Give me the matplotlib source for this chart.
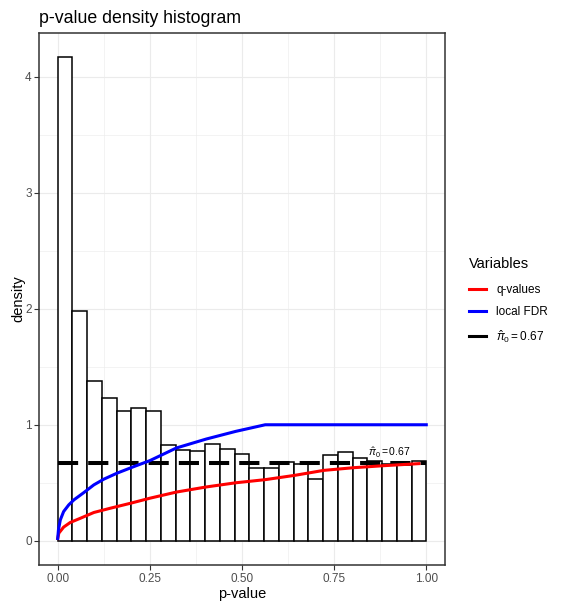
import numpy as np
import matplotlib
matplotlib.use('Agg')
import matplotlib.pyplot as plt
from matplotlib.lines import Line2D

plt.rcParams['font.family'] = ['Liberation Sans', 'DejaVu Sans']
plt.rcParams['mathtext.fontset'] = 'custom'
plt.rcParams['mathtext.rm'] = 'Liberation Sans'
plt.rcParams['mathtext.it'] = 'Liberation Sans:italic'

# histogram densities, 25 bins of width 0.04 on [0, 1]
bin_width = 0.04
density = [4.17, 1.977, 1.377, 1.228, 1.117, 1.142, 1.117, 0.826, 0.783, 0.775,
           0.835, 0.792, 0.749, 0.630, 0.630, 0.683, 0.665, 0.531, 0.740, 0.763,
           0.712, 0.691, 0.665, 0.655, 0.691]

# q-values curve
q_p = [0.0, 0.003, 0.016, 0.034, 0.062, 0.098, 0.143, 0.198, 0.25, 0.322,
       0.403, 0.483, 0.563, 0.643, 0.722, 0.803, 0.883, 0.98]
q_val = [0.02, 0.066, 0.118, 0.158, 0.195, 0.244, 0.281, 0.324, 0.367, 0.42,
         0.464, 0.50, 0.527, 0.564, 0.607, 0.63, 0.647, 0.665]

# local FDR curve
lfdr_p = [0.0, 0.002, 0.007, 0.016, 0.03, 0.044, 0.071, 0.098, 0.125, 0.161,
          0.207, 0.25, 0.322, 0.403, 0.483, 0.563, 1.0]
lfdr_val = [0.02, 0.095, 0.18, 0.252, 0.31, 0.353, 0.416, 0.482, 0.531, 0.583,
            0.64, 0.691, 0.80, 0.877, 0.943, 1.0, 1.0]

pi0 = 0.67

W, H = 565, 610
fig = plt.figure(figsize=(W / 100, H / 100), dpi=100)
ax = fig.add_axes([39.3 / W, 1 - 565 / H, (444.7 - 39.3) / W, (565 - 32.7) / H])

grid_col = '#EBEBEB'
ax.set_axisbelow(True)
ax.set_xticks([0, 0.25, 0.5, 0.75, 1.0])
ax.set_xticklabels(['0.00', '0.25', '0.50', '0.75', '1.00'])
ax.set_yticks([0, 1, 2, 3, 4])
ax.set_xticks([0.125, 0.375, 0.625, 0.875], minor=True)
ax.set_yticks([0.5, 1.5, 2.5, 3.5], minor=True)
ax.grid(which='major', color=grid_col, lw=0.8)
ax.grid(which='minor', color=grid_col, lw=0.4)
ax.tick_params(which='minor', length=0)
ax.tick_params(which='major', length=3.5, width=0.8, color='#333333',
               labelcolor='#4D4D4D', labelsize=8.5, pad=2)

lefts = np.arange(len(density)) * bin_width
ax.bar(lefts, density, width=bin_width, align='edge', facecolor='white',
       edgecolor='black', linewidth=1.1, zorder=2)

# dashed pi0 line spans the p-value range
ax.plot([0, 1], [pi0, pi0], color='black', lw=2.9, dashes=(5, 2.5),
        solid_capstyle='butt', dash_capstyle='butt', zorder=3)
ax.plot(q_p, q_val, color='#FF0000', lw=2.2, zorder=4)
ax.plot(lfdr_p, lfdr_val, color='#0000FF', lw=2.2, zorder=4)

ax.text(0.90, 0.76, r'$\hat{\pi}_0 = 0.67$', ha='center', va='center',
        fontsize=7.5, color='black', zorder=5)

ax.set_xlim(-0.05, 1.05)
ax.set_ylim(-0.2085, 4.3785)
for s in ax.spines.values():
    s.set_color('#333333')
    s.set_linewidth(1.1)

ax.set_xlabel('p-value', fontsize=10.5, labelpad=2)
ax.set_ylabel('density', fontsize=10.5, labelpad=0)
ax.set_title('p-value density histogram', fontsize=12.8, loc='left', pad=7)

handles = [Line2D([], [], color='#FF0000', lw=2.2),
           Line2D([], [], color='#0000FF', lw=2.2),
           Line2D([], [], color='black', lw=2.2)]
labels = ['q-values', 'local FDR', r'$\hat{\pi}_0 = 0.67$']
leg = fig.legend(handles, labels, title='Variables', loc='center left',
                 bbox_to_anchor=(458 / W, 1 - 301 / H), frameon=False,
                 fontsize=8.5, title_fontsize=10.5, handlelength=1.45,
                 handletextpad=0.9, labelspacing=0.85)
leg._legend_box.align = 'left'
leg._legend_box.sep = 9

fig.savefig('out.png', dpi=100)
